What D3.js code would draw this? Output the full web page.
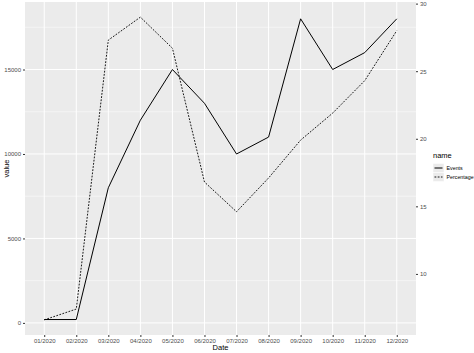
<!DOCTYPE html>
<html><head><meta charset="utf-8">
<script src="https://cdn.jsdelivr.net/npm/d3@7"></script>
<style>body{margin:0;background:#fff;}svg{display:block;font-family:"Liberation Sans",Arial,sans-serif;}</style>
</head><body><svg id="c" width="474" height="353"></svg>
<script>
const months = ["01/2020","02/2020","03/2020","04/2020","05/2020","06/2020","07/2020","08/2020","09/2020","10/2020","11/2020","12/2020"];
const events = [200,200,8000,12000,15000,13000,10000,11000,18000,15000,16000,18000];
const percentage = [6.6,7.4,27.3,29.0,26.7,16.8,14.6,17.1,19.9,21.9,24.3,28.0];
const leftTicks = [0,5000,10000,15000];
const leftMinor = [2500,7500,12500,17500];
const rightTicks = [10,15,20,25,30];
const secScale = 800, secOffset = 5100; // value = pct*secScale - secOffset
const seriesNames = ["Events","Percentage"];

const svg = d3.select("#c");
const P = {l:25, r:416, t:2, b:335};
const x = d3.scalePoint().domain(months).range([P.l,P.r]).padding(0.6);
const pctVals = percentage.map(p=>p*secScale-secOffset);
const all = events.concat(pctVals);
const lo = d3.min(all), hi = d3.max(all), ex = (hi-lo)*0.05;
const y = d3.scaleLinear().domain([lo-ex, hi+ex]).range([P.b,P.t]);
const y2 = d3.scaleLinear().domain(y.domain().map(v=>(v+secOffset)/secScale)).range([P.b,P.t]);

svg.append("rect").attr("x",P.l).attr("y",P.t).attr("width",P.r-P.l).attr("height",P.b-P.t).attr("fill","#EBEBEB");
const g = svg.append("g");
g.selectAll(".mn").data(leftMinor).join("line").attr("x1",P.l).attr("x2",P.r).attr("y1",d=>y(d)).attr("y2",d=>y(d)).attr("stroke","#fff").attr("stroke-width",0.5);
g.selectAll(".mj").data(leftTicks).join("line").attr("x1",P.l).attr("x2",P.r).attr("y1",d=>y(d)).attr("y2",d=>y(d)).attr("stroke","#fff").attr("stroke-width",1);
g.selectAll(".vx").data(months).join("line").attr("y1",P.t).attr("y2",P.b).attr("x1",d=>x(d)).attr("x2",d=>x(d)).attr("stroke","#fff").attr("stroke-width",1);

const line = d3.line().x((d,i)=>x(months[i])).y(d=>y(d));
svg.append("path").datum(events).attr("d",line).attr("fill","none").attr("stroke","#000").attr("stroke-width",1);
svg.append("path").datum(pctVals).attr("d",line).attr("fill","none").attr("stroke","#000").attr("stroke-width",0.9).attr("stroke-dasharray","1.8,1.4");

function styleAxis(a){
  a.select(".domain").remove();
  a.selectAll(".tick line").attr("stroke","#333");
  a.selectAll(".tick text").attr("fill","#4D4D4D").attr("font-size","6px");
}
svg.append("g").attr("transform",`translate(${P.l},0)`).call(d3.axisLeft(y).tickValues(leftTicks).tickSize(2).tickPadding(2).tickFormat(d3.format("d"))).call(styleAxis);
svg.append("g").attr("transform",`translate(${P.r},0)`).call(d3.axisRight(y2).tickValues(rightTicks).tickSize(2).tickPadding(2)).call(styleAxis);
svg.append("g").attr("transform",`translate(0,${P.b})`).call(d3.axisBottom(x).tickSize(2).tickPadding(2)).call(styleAxis);

svg.append("text").attr("x",(P.l+P.r)/2).attr("y",350).attr("text-anchor","middle").attr("font-size","7.5px").attr("fill","#000").text("Date");
svg.append("text").attr("transform",`translate(9,${(P.t+P.b)/2}) rotate(-90)`).attr("text-anchor","middle").attr("font-size","7.5px").attr("fill","#000").text("value");

const lg = svg.append("g").attr("transform","translate(433,0)");
lg.append("text").attr("x",0).attr("y",158).attr("font-size","7.5px").attr("fill","#000").text("name");
seriesNames.forEach((n,i)=>{
  const cy = 168 + i*9;
  lg.append("rect").attr("x",0).attr("y",cy-4.5).attr("width",11).attr("height",9).attr("fill","#EBEBEB").attr("stroke","#fff").attr("stroke-width",0.5);
  lg.append("line").attr("x1",1.5).attr("x2",9.5).attr("y1",cy).attr("y2",cy).attr("stroke","#000").attr("stroke-width",i?0.9:1).attr("stroke-dasharray",i?"1.8,1.4":null);
  lg.append("text").attr("x",13.5).attr("y",cy+2).attr("font-size","5.3px").attr("fill","#000").text(n);
});
</script></body></html>
